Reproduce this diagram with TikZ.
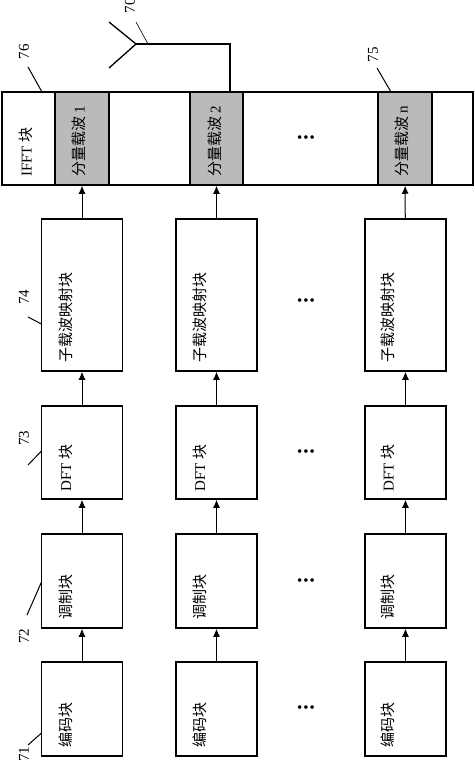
\documentclass[tikz,border=0pt]{standalone}
\usepackage{fontspec}
\setmainfont{Liberation Serif}
\newfontfamily\cjk{Noto Sans CJK SC}
\usetikzlibrary{arrows.meta}
\begin{document}
\begin{tikzpicture}[x=1pt,y=-1pt,
  blk/.style={draw,line width=1.5pt,minimum width=81pt,inner sep=0pt},
  seg/.style={draw,line width=1.5pt,minimum height=93pt,inner sep=0pt},
  shade/.style={seg,fill=black!27},
  txt/.style={rotate=90,anchor=west,inner sep=0pt,font=\fontsize{15}{18}\selectfont},
  num/.style={rotate=90,inner sep=0pt,font=\fontsize{15}{17}\selectfont},
  lead/.style={line width=1pt},
  arr/.style={line width=1pt,-{Latex[length=8pt,width=7pt]}},
  dotsn/.style={inner sep=0pt,font=\fontsize{15}{17}\selectfont}]
\useasboundingbox (0,0) rectangle (474,762);
% top bar
\node[seg,minimum width=53pt] (b0) at (28.5,138.5) {};
\node[shade,minimum width=54pt] (s1) at (82,138.5) {};
\node[seg,minimum width=81pt] (w1) at (149.5,138.5) {};
\node[shade,minimum width=53pt] (s2) at (216.5,138.5) {};
\node[seg,minimum width=135pt] (w2) at (310.5,138.5) {};
\node[shade,minimum width=54pt] (sn) at (405,138.5) {};
\node[seg,minimum width=41pt] (w3) at (452.5,138.5) {};
\draw[line width=1.8pt] (2,92) rectangle (473,185);
\node[txt] (tifft) at (26,177) {IFFT {\cjk 块}};
\node[txt] (ts1) at (79,177) {{\cjk 分量载波} 1};
\node[txt] (ts2) at (215,177) {{\cjk 分量载波} 2};
\node[txt] (tsn) at (402,177) {{\cjk 分量载波} n};
\node[dotsn] (d0) at (306,139) {\textbullet\hspace{1pt}\textbullet\hspace{1pt}\textbullet};
% antenna
\coordinate (feed) at (230,92);
\coordinate (ant) at (136,44);
\coordinate (arm1) at (109,22);
\coordinate (arm2) at (109,68);
\draw[line width=1.3pt] (feed) |- (ant);
\draw[line width=1.3pt] (arm1) -- (ant) -- (arm2);
% blocks
\foreach \c/\x/\tx in {1/82/65.5, 2/216.5/199.5, 3/405.5/388}{
  \node[blk,minimum height=152pt] (m\c) at (\x,295) {};
  \node[blk,minimum height=93pt] (d\c) at (\x,452.5) {};
  \node[blk,minimum height=94pt] (q\c) at (\x,581) {};
  \node[blk,minimum height=94pt] (e\c) at (\x,709) {};
  \node[txt,font=\cjk\fontsize{15}{18}\selectfont] (tm\c) at (\tx,363) {子载波映射块};
  \node[txt] (td\c) at (\tx,492) {DFT {\cjk 块}};
  \node[txt,font=\cjk\fontsize{15}{18}\selectfont] (tq\c) at (\tx,620) {调制块};
  \node[txt,font=\cjk\fontsize{15}{18}\selectfont] (te\c) at (\tx,748) {编码块};
  \draw[arr] (e\c) -- (q\c);
  \draw[arr] (q\c) -- (d\c);
  \draw[arr] (d\c) -- (m\c);
}
\draw[arr] (m1) -- (s1);
\draw[arr] (m2) -- (s2);
\draw[arr] (m3) -- (sn);
\node[dotsn] (dm) at (306,302) {\textbullet\hspace{1pt}\textbullet\hspace{1pt}\textbullet};
\node[dotsn] (dd) at (306,453) {\textbullet\hspace{1pt}\textbullet\hspace{1pt}\textbullet};
\node[dotsn] (dq) at (306,582) {\textbullet\hspace{1pt}\textbullet\hspace{1pt}\textbullet};
\node[dotsn] (de) at (306,709) {\textbullet\hspace{1pt}\textbullet\hspace{1pt}\textbullet};
% reference labels
\node[num] (l70) at (130,6) {70};
\node[num] (l76) at (24,52) {76};
\node[num] (l75) at (373,55) {75};
\node[num] (l74) at (24,297) {74};
\node[num] (l73) at (24,438) {73};
\node[num] (l72) at (24,636) {72};
\node[num] (l71) at (24,754) {71};
\coordinate (c70a) at (136,22); \coordinate (c70b) at (148,44);
\coordinate (c76a) at (28,67);  \coordinate (c76b) at (42,92);
\coordinate (c75a) at (377,68); \coordinate (c75b) at (391,92);
\coordinate (c74a) at (28,317); \coordinate (c74b) at (41.5,324);
\coordinate (c73a) at (28,465); \coordinate (c73b) at (41.5,451);
\coordinate (c72a) at (27,615); \coordinate (c72b) at (41.5,582);
\coordinate (c71a) at (28,745); \coordinate (c71b) at (41.5,733);
\draw[line width=0.6pt] (c70a) -- (c70b);
\draw[lead] (c76a) -- (c76b);
\draw[lead] (c75a) -- (c75b);
\draw[lead] (c74a) -- (c74b);
\draw[lead] (c73a) -- (c73b);
\draw[lead] (c72a) -- (c72b);
\draw[lead] (c71a) -- (c71b);
\end{tikzpicture}
\end{document}
